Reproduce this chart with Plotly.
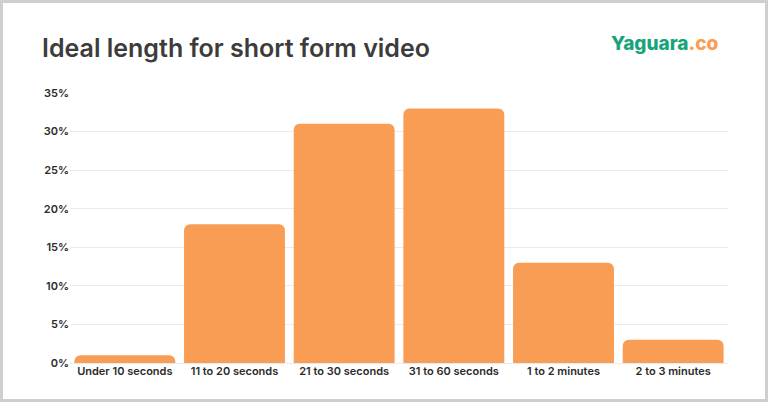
import plotly.graph_objects as go

categories = ["Under 10 seconds", "11 to 20 seconds", "21 to 30 seconds",
              "31 to 60 seconds", "1 to 2 minutes", "2 to 3 minutes"]
values = [1, 18, 31, 33, 13, 3]
tick_vals = [0, 5, 10, 15, 20, 25, 30, 35]
tick_text = ["0%", "5%", "10%", "15%", "20%", "25%", "30%", "35%"]

W, H = 768, 402
ML, MR, MT, MB = 70, 40, 93, 39
PW, PH = W - ML - MR, H - MT - MB

fig = go.Figure(go.Bar(
    x=categories, y=values,
    marker=dict(color="#F99D55", cornerradius=6, line=dict(width=0)),
    hoverinfo="x+y",
))

fig.update_layout(
    width=W, height=H,
    margin=dict(l=ML, r=MR, t=MT, b=MB),
    paper_bgcolor="white", plot_bgcolor="white",
    bargap=0.08,
    showlegend=False,
    font=dict(family="Inter", color="#2b2b2b"),
    xaxis=dict(tickfont=dict(size=11, weight=600, color="#2b2b2b"),
               showgrid=False, showline=False, ticks=""),
    yaxis=dict(range=[0, 35], tickvals=tick_vals, ticktext=tick_text,
               tickfont=dict(size=11, weight=600, color="#2b2b2b"),
               showgrid=True, gridcolor="#ebebeb", gridwidth=1,
               zeroline=True, zerolinecolor="#ebebeb", zerolinewidth=1,
               ticks="", ticklen=0, automargin=False),
    annotations=[
        dict(text="Ideal length for short form video", xref="paper", yref="paper",
             x=(40 - ML) / PW, y=(H - MB - 48) / PH, xanchor="left", yanchor="middle",
             showarrow=False, font=dict(family="Inter", size=25, weight=600, color="#3c3c3c")),
        dict(text="<span style='color:#17A47B'>Yaguara</span><span style='color:#F99D55'>.co</span>",
             xref="paper", yref="paper",
             x=(720 - ML) / PW, y=(H - MB - 44) / PH, xanchor="right", yanchor="middle",
             showarrow=False, font=dict(family="Inter", size=19, weight=800)),
    ],
    shapes=[
        dict(type="rect", xref="paper", yref="paper",
             x0=(1 - ML) / PW, x1=(W - 1 - ML) / PW,
             y0=(H - MB - (H - 1)) / PH, y1=(H - MB - 1) / PH,
             line=dict(color="#cfcfcf", width=4), fillcolor="rgba(0,0,0,0)", layer="above"),
    ],
)

fig.write_html("out.html",
               config={"displayModeBar": False},
               post_script="document.body.style.margin='0';document.body.style.padding='0';"
                           "document.documentElement.style.overflow='hidden';")
